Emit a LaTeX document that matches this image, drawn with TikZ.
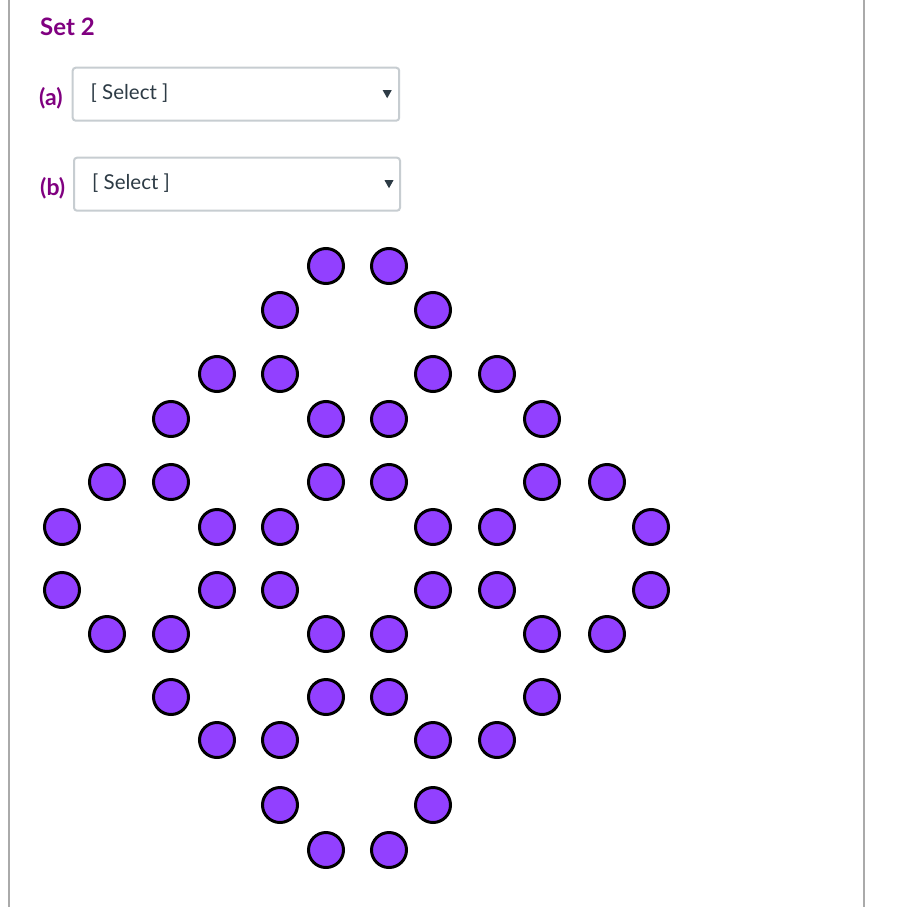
\documentclass[tikz,border=0pt]{standalone}
\usepackage{fontspec}
\setmainfont{Lato}
\usetikzlibrary{calc}
\definecolor{dotfill}{RGB}{146,64,255}
\definecolor{titlepurple}{RGB}{128,0,128}
\definecolor{selgray}{RGB}{45,59,69}
\definecolor{boxgray}{RGB}{199,205,209}
\definecolor{railgray}{RGB}{170,170,170}
\tikzset{
  dot/.style={circle, draw=black, fill=dotfill, line width=3pt, minimum size=35pt, inner sep=0pt},
  selbox/.style={draw=boxgray, line width=2pt, rounded corners=3pt, fill=white, inner sep=0pt, anchor=north west},
  rail/.style={draw=railgray, line width=2pt},
  lbl/.style={text=titlepurple, font=\fontsize{23}{23}\selectfont\bfseries, inner sep=0pt, anchor=west},
  seltext/.style={text=selgray, font=\fontsize{20.5}{20.5}\selectfont, inner sep=0pt, anchor=west},
  caret/.style={fill=selgray}
}
\begin{document}
\begin{tikzpicture}[x=1pt,y=-1pt]
\useasboundingbox (0,0) rectangle (898,907);
\fill[white] (0,0) rectangle (898,907);
\draw[rail] (8.5,0) -- (8.5,907);
\draw[rail] (863.5,0) -- (863.5,907);
% title
\node[text=titlepurple, font=\fontsize{24}{24}\selectfont\bfseries, inner sep=0pt, anchor=base west] (title) at (40,36) {Set 2};
% select boxes
\node[selbox, minimum width=326.5pt, minimum height=53pt] (boxa) at (71.7,66.7) {};
\node[selbox, minimum width=326pt, minimum height=53pt] (boxb) at (73,156.7) {};
\node[lbl] (la) at (39,98) {(a)};
\node[lbl] (lb) at (40,188) {(b)};
\node[seltext] (sa) at (90.5,93.3) {[ Select ]};
\node[seltext] (sb) at (92,183) {[ Select ]};
\fill[caret] ($(boxa.east)+(-17.5,-4)$) -- ++(9,0) -- ++(-4.5,8) -- cycle;
\fill[caret] ($(boxb.east)+(-16.5,-4)$) -- ++(9,0) -- ++(-4.5,8) -- cycle;
% dots
\foreach \x/\y [count=\i] in {
 326/266, 389/266,
 280/310, 433/310,
 217/374, 280/374, 433/374, 497/374,
 171/419, 326/419, 389/419, 542/419,
 107/482, 171/482, 326/482, 389/482, 542/482, 607/482,
 62/527, 217/527, 280/527, 433/527, 497/527, 651/527,
 62/590, 217/590, 280/590, 433/590, 497/590, 651/590,
 107/634, 171/634, 326/634, 389/634, 542/634, 607/634,
 171/697, 326/697, 389/697, 542/697,
 217/740, 280/740, 433/740, 497/740,
 280/805, 433/805,
 326/850, 389/850}
 \node[dot] (d\i) at (\x,\y) {};
\end{tikzpicture}
\end{document}
